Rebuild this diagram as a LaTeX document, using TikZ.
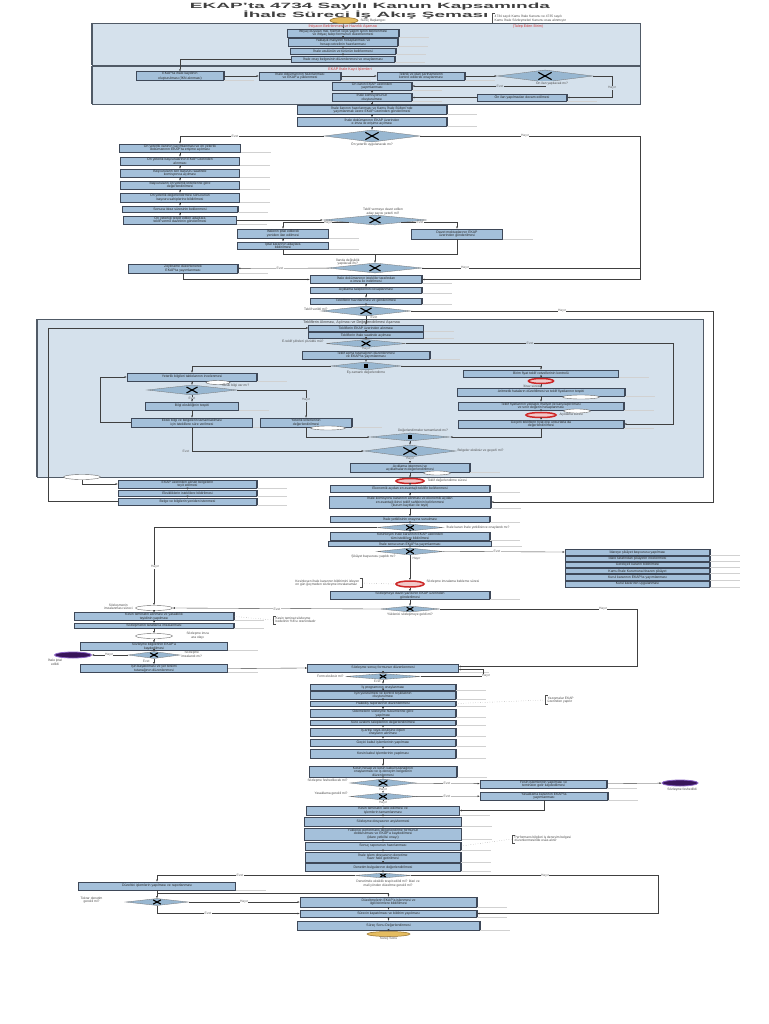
\documentclass[tikz,border=0pt]{standalone}
\usepackage{fontspec}
\setmainfont{Liberation Sans}
\usepackage{xcolor}
\usepackage{tikz}
\usetikzlibrary{arrows.meta,shapes.geometric}

\definecolor{taskfill}{RGB}{164,192,218}
\definecolor{taskline}{RGB}{62,72,88}
\definecolor{grpfill}{RGB}{213,225,236}
\definecolor{grpline}{RGB}{80,90,102}
\definecolor{gwfill}{RGB}{152,183,209}
\definecolor{startfill}{RGB}{228,188,96}
\definecolor{startline}{RGB}{150,110,40}
\definecolor{hdrred}{RGB}{210,62,62}
\definecolor{evred}{RGB}{205,40,40}
\definecolor{endfill}{RGB}{56,20,90}
\definecolor{endline}{RGB}{140,100,200}

\newcommand{\boxfont}{\fontsize{3.45}{3.65}\selectfont}
\newcommand{\lblfont}{\fontsize{3.3}{3.5}\selectfont}

\begin{document}
\begin{tikzpicture}[
  x=1pt, y=-1pt,
  task/.style={draw=taskline, fill=taskfill, line width=0.35pt, inner sep=0.4pt, align=center, font=\boxfont, text=black!85,
    path picture={\draw[line width=1.4pt, taskline] (path picture bounding box.north west) -- (path picture bounding box.south west) (path picture bounding box.north east) -- (path picture bounding box.south east);},
    append after command={(\tikzlastnode.south east) edge[trail] ++(30,0)}},
  trail/.style={draw=black!18, line width=0.8pt},
  gw/.style={shape=diamond, draw=black!55, fill=gwfill, inner sep=0pt, line width=0.3pt, minimum height=#1,
    path picture={\draw[line width=1.1pt, black] ([shift={(-0.55*#1,-0.3*#1)}]path picture bounding box.center) -- ([shift={(0.55*#1,0.3*#1)}]path picture bounding box.center) ([shift={(-0.55*#1,0.3*#1)}]path picture bounding box.center) -- ([shift={(0.55*#1,-0.3*#1)}]path picture bounding box.center);}},
  pgw/.style={shape=diamond, draw=black!55, fill=gwfill, inner sep=0pt, line width=0.3pt, minimum height=#1,
    path picture={\fill[black] ([shift={(-0.3*#1,-0.3*#1)}]path picture bounding box.center) rectangle ([shift={(0.3*#1,0.3*#1)}]path picture bounding box.center);}},
  evstart/.style={ellipse, draw=startline, fill=startfill, line width=0.5pt, inner sep=0pt},
  evred/.style={ellipse, draw=evred, fill=evred!25, line width=1.5pt, inner sep=0pt},
  evend/.style={ellipse, draw=endline, fill=endfill, line width=0.8pt, inner sep=0pt},
  evsmall/.style={ellipse, draw=black!60, fill=white, line width=0.4pt, inner sep=0pt},
  flow/.style={-{Latex[length=2.2pt,width=1.8pt]}, draw=black!75, line width=0.35pt},
  conn/.style={draw=black!75, line width=0.35pt},
  yn/.style={font=\lblfont, text=black!60, inner sep=0.3pt, fill=white},
  lbl/.style={font=\lblfont, text=black!70, inner sep=0.3pt, align=center},
  annot/.style={font=\lblfont, text=black!70, align=left, inner ysep=0.8pt, inner xsep=2.5pt},
  brk/.style={draw=black!70, line width=0.6pt},
  dots/.style={draw=black!45, dotted, line width=0.4pt},
  grp/.style={draw=grpline, fill=grpfill, line width=0.4pt},
  hdr/.style={font=\fontsize{3.7}{4}\selectfont, text=hdrred, inner sep=0.3pt}
]
\useasboundingbox (0,0) rectangle (768,1024);
\fill[white] (0,0) rectangle (768,1024);

% title and legend
\node[font=\fontsize{7.6}{8}\selectfont\bfseries, text=black!75, inner sep=0pt] (title1) at (370,7) {\scalebox{2.5}[1]{EKAP'ta 4734 Sayılı Kanun Kapsamında}};
\node[font=\fontsize{7.6}{8}\selectfont\bfseries, text=black!75, inner sep=0pt] (title2) at (366,14.6) {\scalebox{2.5}[1]{İhale Süreci İş Akış Şeması}};
\node[annot, anchor=west] (legend) at (492,18.5) {4734 sayılı Kamu İhale Kanunu ve 4735 sayılı\\Kamu İhale Sözleşmeleri Kanunu esas alınmıştır};
\draw[brk] ([xshift=2.5pt]legend.north west) -- (legend.north west) -- (legend.south west) -- ([xshift=2.5pt]legend.south west);

% groups
\draw[grp] (92,23) rectangle (640,65);
\draw[grp] (92,66.5) rectangle (640,104);
\draw[grp] (37,319) rectangle (703,477);
\draw[line width=1.2pt, grpline] (92,23) -- (92,65) (92,66.5) -- (92,104) (37,319) -- (37,477);

% start and preparation
\node[evstart, minimum width=28, minimum height=6] (start) at (344,20.5) {};
\node[lbl, anchor=west] (startL) at (360,21) {Süreç Başlangıcı};
\node[hdr] (hdrA) at (343,26.3) {İhtiyacın Belirlenmesi ve Hazırlık Aşaması};
\node[hdr] (hdrA2) at (528,26.3) {(Talep Eden Birim)};
\node[task, minimum width=112, minimum height=8] (talep) at (343,33) {İhtiyaç duyulan mal, hizmet veya yapım işinin belirlenmesi\\ve ihtiyaç talep formunun düzenlenmesi};
\node[task, minimum width=110, minimum height=8] (maliyet) at (343,42.5) {Yaklaşık maliyetin hesaplanması ve\\hesap cetvelinin hazırlanması};
\node[task, minimum width=106, minimum height=6] (usul) at (343,51.5) {İhale usulünün ve türünün belirlenmesi};
\node[task, minimum width=104, minimum height=6] (onay) at (343,59) {İhale onay belgesinin düzenlenmesi ve onaylanması};

% EKAP registration
\node[hdr] (hdrB) at (350,68.8) {EKAP İhale Kayıt İşlemleri};
\node[task, minimum width=88, minimum height=8] (kayit) at (180,76) {EKAP'ta ihale kaydının\\oluşturulması (İKN alınması)};
\node[task, minimum width=82, minimum height=8] (dokuman) at (300,76) {İhale dokümanının hazırlanması\\ve EKAP'a yüklenmesi};
\node[task, minimum width=88, minimum height=8] (sartname) at (421,76) {Teknik ve idari şartnamelerin\\kontrol edilerek onaylanması};
\node[gw=12, minimum width=96] (dOnilan) at (545,76) {};
\node[task, minimum width=80, minimum height=7] (onilan) at (372,86) {Ön ilanın EKAP üzerinden\\yayımlanması};
\node[task, minimum width=90, minimum height=7] (ilansiz) at (522,97.5) {Ön ilan yapılmadan devam edilmesi};
\node[task, minimum width=80, minimum height=7] (komisyon) at (372,97.5) {İhale komisyonunun\\oluşturulması};
\node[task, minimum width=150, minimum height=9] (ilan) at (372,110) {İhale ilanının hazırlanması ve Kamu İhale Bülteni'nde\\yayımlanmak üzere EKAP üzerinden gönderilmesi};
\node[task, minimum width=150, minimum height=9] (erisim) at (372,122) {İhale dokümanının EKAP üzerinden\\e-imza ile erişime açılması};
\node[gw=12, minimum width=96] (dOnyet) at (372,136) {};

% pre-qualification column
\node[task, minimum width=121, minimum height=8] (oy1) at (180,148) {Ön yeterlik ilanının yayımlanması ve ön yeterlik\\dokümanının EKAP'ta erişime açılması};
\node[task, minimum width=119, minimum height=8] (oy2) at (180,161) {Ön yeterlik başvurularının EKAP üzerinden\\alınması};
\node[task, minimum width=119, minimum height=8] (oy3) at (180,173) {Başvuruların son başvuru saatinde\\komisyonca açılması};
\node[task, minimum width=119, minimum height=8] (oy4) at (180,185) {Başvuruların ön yeterlik kriterlerine göre\\değerlendirilmesi};
\node[task, minimum width=119, minimum height=9] (oy5) at (180,197.5) {Ön yeterlik değerlendirmesi sonucunun\\başvuru sahiplerine bildirilmesi};
\node[task, minimum width=116, minimum height=6] (oy6) at (180,209) {Sonuca itiraz süresinin beklenmesi};
\node[task, minimum width=113, minimum height=8] (oy7) at (180,220) {Ön yeterliği tespit edilen adaylara\\teklif verme davetinin gönderilmesi};
\node[gw=10, minimum width=104] (dDavet) at (375,220) {};
\node[task, minimum width=91, minimum height=9] (iptal1) at (283,233.5) {İhalenin iptal edilerek\\yeniden ilan edilmesi};
\node[task, minimum width=91, minimum height=7] (iptal2) at (283,245.5) {İptal kararının adaylara\\bildirilmesi};
\node[task, minimum width=91, minimum height=10] (davet) at (457,234) {Davet mektuplarının EKAP\\üzerinden gönderilmesi};
\coordinate (mj) at (375,254);
\node[gw=10, minimum width=94] (dZeyil) at (375,268) {};
\node[task, minimum width=110, minimum height=9] (zeyil) at (183,268.5) {Zeyilname düzenlenerek\\EKAP'ta yayımlanması};
\coordinate (jn) at (640,268);
\node[task, minimum width=112, minimum height=8] (indir) at (366,279.5) {İhale dokümanının istekliler tarafından\\e-imza ile indirilmesi};
\node[task, minimum width=112, minimum height=6] (aciklama) at (366,290) {Açıklama taleplerinin cevaplanması};
\node[task, minimum width=112, minimum height=6] (hazirlik) at (366,301) {Tekliflerin hazırlanması ve gönderilmesi};
\node[gw=10, minimum width=90] (dTeklif) at (366,311) {};

% bids: opening and evaluation
\node[font=\fontsize{3.7}{4}\selectfont, text=black!75, inner sep=0.3pt] (hdrC) at (352,322.5) {Tekliflerin Alınması, Açılması ve Değerlendirilmesi Aşaması};
\node[task, minimum width=115, minimum height=6] (al) at (366,328) {Tekliflerin EKAP üzerinden alınması};
\node[task, minimum width=115, minimum height=6] (ac) at (366,335.5) {Tekliflerin ihale saatinde açılması};
\node[gw=8, minimum width=80] (dSifre) at (366,343.5) {};
\node[task, minimum width=128, minimum height=8] (tutanak) at (366,355) {Teklif açma tutanağının düzenlenmesi\\ve EKAP'ta yayımlanması};
\node[pgw=8, minimum width=70] (fork) at (366,366) {};

\node[task, minimum width=130, minimum height=8] (ybt) at (192,377) {Yeterlik bilgileri tablolarının incelenmesi};
\node[evsmall, minimum width=24, minimum height=4] (so1) at (218,382.5) {};
\node[gw=10, minimum width=90] (dEksik) at (192,390) {};
\node[task, minimum width=93, minimum height=8] (eksik) at (192,406) {Bilgi eksikliğinin tespiti};
\node[task, minimum width=121, minimum height=9] (tamamla) at (192,422.5) {Eksik bilgi ve belgelerin tamamlatılması\\için isteklilere süre verilmesi};
\node[task, minimum width=92, minimum height=9] (kriter) at (306,422.5) {Yeterlik kriterlerinin\\değerlendirilmesi};
\node[evsmall, minimum width=35, minimum height=4] (so2) at (328,428) {};

\node[task, minimum width=155, minimum height=7] (cetvel) at (541,373.5) {Birim fiyat teklif cetvellerinin kontrolü};
\node[evred, minimum width=25, minimum height=5] (sure1) at (541,381) {};
\node[task, minimum width=168, minimum height=8] (aritmetik) at (541,392) {Aritmetik hataların düzeltilmesi ve teklif fiyatlarının tespiti};
\node[evsmall, minimum width=37, minimum height=4] (so4) at (581,397) {};
\node[task, minimum width=166, minimum height=8] (sinir) at (541,406) {Teklif fiyatlarının yaklaşık maliyet ile karşılaştırılması\\ve sınır değerin hesaplanması};
\node[evsmall, minimum width=27, minimum height=4] (so5) at (577,411) {};
\node[evred, minimum width=30, minimum height=5] (sure2) at (541,415) {};
\node[task, minimum width=166, minimum height=8] (fiyatdisi) at (541,424) {Geçerli tekliflerin fiyat dışı unsurlarla da\\değerlendirilmesi};

\node[pgw=8, minimum width=80] (join) at (410,437) {};
\node[gw=12, minimum width=92] (dBelge) at (410,451) {};
\node[task, minimum width=120, minimum height=9] (sorgu) at (410,468) {Açıklama istenmesi ve\\açıklamaların değerlendirilmesi};
\node[evsmall, minimum width=27, minimum height=4] (so3) at (437,473) {};

% documents check loop
\node[evsmall, minimum width=37, minimum height=5] (bo) at (82,477) {};
\node[task, minimum width=139, minimum height=8] (teyit) at (187.5,484) {EKAP üzerinden alınan belgelerin\\teyit edilmesi};
\node[task, minimum width=139, minimum height=6] (bildir) at (187.5,493) {Eksikliklerin isteklilere bildirilmesi};
\node[task, minimum width=139, minimum height=7] (yeniden) at (187.5,501.5) {Belge ve bilgilerin yeniden istenmesi};

% award
\node[evred, minimum width=28, minimum height=5] (sure3) at (410,481) {};
\node[task, minimum width=160, minimum height=7] (avantaj) at (410,489) {Ekonomik açıdan en avantajlı teklifin belirlenmesi};
\node[task, minimum width=162, minimum height=10] (karar) at (410,502) {İhale komisyonu kararının alınması ve ekonomik açıdan\\en avantajlı ikinci teklif sahibinin belirlenmesi\\(kurum kayıtları ile teyit)};
\node[task, minimum width=160, minimum height=6] (yetkili) at (410,519.5) {İhale yetkilisinin onayına sunulması};
\node[gw=7, minimum width=66] (dOnay) at (410,527.5) {};
\node[task, minimum width=160, minimum height=8] (kesin) at (410,536) {Kesinleşen ihale kararının EKAP üzerinden\\tüm isteklilere bildirilmesi};
\node[task, minimum width=163, minimum height=5] (sonuc) at (410,544) {İhale sonucunun EKAP'ta yayımlanması};
\node[gw=7, minimum width=66] (dSikayet) at (410,551.5) {};
\node[task, minimum width=145, minimum height=6] (sk1) at (637.5,552) {İdareye şikâyet başvurusu yapılması};
\node[task, minimum width=145, minimum height=5] (sk2) at (637.5,558.5) {İdare tarafından şikâyetin incelenmesi};
\node[task, minimum width=145, minimum height=5.5] (sk3) at (637.5,564.8) {Gerekçeli kararın bildirilmesi};
\node[task, minimum width=145, minimum height=5] (sk4) at (637.5,571) {Kamu İhale Kurumuna itirazen şikâyet};
\node[task, minimum width=145, minimum height=5.5] (sk5) at (637.5,577.3) {Kurul kararının EKAP'ta yayımlanması};
\node[task, minimum width=145, minimum height=6] (sk6) at (637.5,584) {Kurul kararının uygulanması};
\node[evred, minimum width=28, minimum height=6] (sure4) at (410,584) {};
\node[annot, anchor=east] (annBekle) at (362,583) {Kesinleşen ihale kararının bildirimini izleyen\\on gün geçmeden sözleşme imzalanamaz};
\node[task, minimum width=160, minimum height=8] (cagri) at (410,595.5) {Sözleşmeye davet yazısının EKAP üzerinden\\gönderilmesi};
\node[gw=6, minimum width=60] (dGeldi) at (410,609) {};

% contract
\node[evsmall, minimum width=37, minimum height=5] (ov1) at (154,608) {};
\node[task, minimum width=160, minimum height=7] (teminat) at (154,616.5) {Kesin teminatın alınması ve yasaklılık\\teyidinin yapılması};
\node[annot, anchor=west] (annTeminat) at (273,620) {Kesin teminat sözleşme\\bedelinin \%6'sı oranındadır};
\node[task, minimum width=160, minimum height=5] (imza) at (154,625.5) {Sözleşmenin taraflarca imzalanması};
\node[evsmall, minimum width=37, minimum height=5] (ov2) at (154,636) {};
\node[task, minimum width=147, minimum height=7] (sbilgi) at (154,646.5) {Sözleşme bilgilerinin EKAP'a\\kaydedilmesi};
\node[gw=7, minimum width=52] (dImza) at (154,655) {};
\node[evend, minimum width=37, minimum height=6] (end1) at (73,655) {};
\node[task, minimum width=147, minimum height=7] (yer) at (154,668.5) {İşin başlatılması ve yer teslimi\\tutanağının düzenlenmesi};

% execution
\node[task, minimum width=151, minimum height=8] (form) at (383,668) {Sözleşme sonuç formunun düzenlenmesi};
\node[gw=6, minimum width=75] (dForm) at (383,676.5) {};
\node[task, minimum width=146, minimum height=6] (program) at (383,687) {İş programının onaylanması};
\node[task, minimum width=146, minimum height=7] (yurut) at (383,695) {İşin yürütülmesi ve kontrol teşkilatının\\oluşturulması};
\node[task, minimum width=146, minimum height=5] (hakedis) at (383,703.5) {Hakediş raporlarının düzenlenmesi};
\node[annot, anchor=west] (annYazi) at (545,700) {Yazışmalar EKAP\\üzerinden yapılır};
\node[task, minimum width=146, minimum height=7] (odeme) at (383,713.5) {Ödemelerin sözleşme hükümlerine göre\\yapılması};
\node[task, minimum width=146, minimum height=5] (uzatim) at (383,722.5) {Süre uzatımı taleplerinin değerlendirilmesi};
\node[task, minimum width=146, minimum height=8] (artis) at (383,732) {İş artışı veya eksilişine ilişkin\\onayların alınması};
\node[task, minimum width=146, minimum height=7] (gecici) at (383,742.5) {Geçici kabul işlemlerinin yapılması};
\node[task, minimum width=146, minimum height=9] (kabul) at (383,753.5) {Kesin kabul işlemlerinin yapılması};
\node[task, minimum width=148, minimum height=10] (hesap) at (383,771.5) {Kesin hesap ve kesin kabul tutanağının\\onaylanması ve iş deneyim belgesinin\\düzenlenmesi};
\node[gw=8, minimum width=66] (dFesih) at (383,783) {};
\node[task, minimum width=127, minimum height=8] (fesih) at (543.5,784) {Fesih işlemlerinin yapılması ve\\teminatın gelir kaydedilmesi};
\node[evend, minimum width=36, minimum height=6] (end2) at (680,783) {};
\node[gw=7, minimum width=66] (dYasak) at (383,796.5) {};
\node[task, minimum width=128, minimum height=8] (yasak) at (544,796) {Yasaklama kararının EKAP'ta\\yayımlanması};

% closing
\node[task, minimum width=153, minimum height=9] (iade) at (383,810.5) {Kesin teminatın iade edilmesi ve\\işlemlerin tamamlanması};
\node[task, minimum width=157, minimum height=9] (arsiv) at (383,821.5) {Sözleşme dosyasının arşivlenmesi};
\node[task, minimum width=157, minimum height=11] (perf) at (383,834) {Yüklenici performans değerlendirme formunun\\doldurulması ve EKAP'a kaydedilmesi\\(idare yetkilisi onayı)};
\node[task, minimum width=156, minimum height=8] (rapor) at (383,846) {Sonuç raporunun hazırlanması};
\node[annot, anchor=west] (annPerf) at (512,839) {Performans bilgileri iş deneyim belgesi\\düzenlenmesinde esas alınır};
\node[task, minimum width=156, minimum height=10] (denetim) at (383,857) {İhale işlem dosyasının denetime\\hazır hale getirilmesi};
\node[task, minimum width=156, minimum height=8] (bulgu) at (383,867.5) {Denetim bulgularının değerlendirilmesi};
\node[gw=5, minimum width=56] (dDuzelt) at (383,875.5) {};
\node[task, minimum width=157, minimum height=8] (duzelt) at (157,886) {Düzeltici işlemlerin yapılması ve raporlanması};
\node[gw=7, minimum width=63] (dTekrar) at (157,902) {};
\node[task, minimum width=177, minimum height=10] (isle) at (388.5,902) {Düzeltmelerin EKAP'a işlenmesi ve\\ilgili birimlere bildirilmesi};
\node[task, minimum width=177, minimum height=7] (kapat) at (388.5,913.5) {Sürecin kapatılması ve bildirim yapılması};
\node[task, minimum width=183, minimum height=9] (sondeg) at (388.5,925.5) {Süreç Sonu Değerlendirmesi};
\node[evstart, minimum width=43, minimum height=5] (finish) at (388.5,934) {};

% connectors
\draw[flow] (start) -- (talep);
\draw[flow] (talep) -- (maliyet);
\draw[flow] (maliyet) -- (usul);
\draw[flow] (usul) -- (onay);
\draw[flow] (onay.west) -| (kayit.north);
\draw[flow] (kayit) -- (dokuman);
\draw[flow] (dokuman) -- (sartname);
\draw[flow] (sartname) -- (dOnilan);
\draw[flow] (dOnilan.south) |- (onilan.east);
\draw[flow] (dOnilan.east) -- ++(19,0) |- (ilansiz.east);
\draw[flow] (ilansiz) -- (komisyon);
\draw[flow] (onilan) -- (komisyon);
\draw[flow] (komisyon) -- (ilan);
\draw[flow] (ilan) -- (erisim);
\draw[flow] (erisim) -- (dOnyet);
\draw[flow] (dOnyet.west) -| (oy1.north);
\draw[flow] (dOnyet.east) -- ++(220,0) |- (indir.east);
\draw[flow] (oy1) -- (oy2);
\draw[flow] (oy2) -- (oy3);
\draw[flow] (oy3) -- (oy4);
\draw[flow] (oy4) -- (oy5);
\draw[flow] (oy5) -- (oy6);
\draw[flow] (oy6) -- (oy7);
\draw[flow] (oy7) -- (dDavet);
\draw[flow] (dDavet.south west) -| (iptal1.north);
\draw[flow] (dDavet.south east) -| (davet.north);
\draw[flow] (iptal1) -- (iptal2);
\draw[conn] (iptal2.south) |- (mj);
\draw[conn] (davet.south) |- (mj);
\draw[flow] (mj) -- (dZeyil);
\draw[flow] (dZeyil) -- (zeyil);
\draw[conn] (dZeyil.east) -- (jn);
\draw[flow] (zeyil.south) |- (indir.west);
\draw[flow] (indir) -- (aciklama);
\draw[flow] (aciklama) -- (hazirlik);
\draw[flow] (hazirlik) -- (dTeklif);
\draw[flow] (dTeklif) -- (al);
\draw[flow] (dTeklif.east) -- ++(302,0) |- (karar.east);
\draw[flow] (al) -- (ac);
\draw[flow] (ac) -- (dSifre);
\draw[flow] (dSifre.east) -- ++(267,0) |- (fiyatdisi.east);
\draw[flow] (dSifre) -- (tutanak);
\draw[flow] (tutanak) -- (fork);
\draw[flow] (fork.west) -| (ybt.north);
\draw[flow] (fork.east) -| (cetvel.north);
\draw[flow] (ybt) -- (dEksik);
\draw[flow] (dEksik) -- (eksik);
\draw[flow] (dEksik.east) -| (kriter.north);
\draw[flow] (eksik) -- (tamamla);
\draw[flow] (tamamla.west) -- ++(-31,0) |- (ybt.west);
\draw[flow] (tamamla.south) |- (dBelge.west);
\draw[flow] (kriter.south) |- (join.west);
\draw[flow] (cetvel) -- (sure1);
\draw[flow] (sure1) -- (aritmetik);
\draw[flow] (aritmetik) -- (sinir);
\draw[flow] (sinir) -- (sure2);
\draw[flow] (sure2) -- (fiyatdisi);
\draw[flow] (fiyatdisi.south) |- (join.east);
\draw[flow] (join) -- (dBelge);
\draw[flow] (dBelge) -- (sorgu);
\draw[flow] (sorgu) -- (sure3);
\draw[flow] (bo.south) |- (teyit.west);
\draw[flow] (teyit) -- (bildir);
\draw[flow] (bildir) -- (yeniden);
\draw[flow] (yeniden.west) -- ++(-70,0) |- (al.west);
\draw[flow] (sure3) -- (avantaj);
\draw[flow] (avantaj) -- (karar);
\draw[flow] (karar) -- (yetkili);
\draw[flow] (yetkili) -- (dOnay);
\draw[flow] (dOnay.west) -| (ov1.north);
\draw[flow] (dOnay) -- (kesin);
\draw[flow] (kesin) -- (sonuc);
\draw[flow] (sonuc) -- (dSikayet);
\draw[flow] (dSikayet.east) -- (sk1.west);
\draw[conn] (sk1) -- (sk2);
\draw[conn] (sk2) -- (sk3);
\draw[conn] (sk3) -- (sk4);
\draw[conn] (sk4) -- (sk5);
\draw[conn] (sk5) -- (sk6);
\draw[flow] (dSikayet) -- (sure4);
\draw[brk] ([xshift=-2.5pt]annBekle.north east) -- (annBekle.north east) -- (annBekle.south east) -- ([xshift=-2.5pt]annBekle.south east);
\draw[dots] (annBekle.east) -- (sure4.west);
\draw[flow] (sure4) -- (cagri);
\draw[flow] (cagri) -- (dGeldi);
\draw[flow] (dGeldi.east) -- ++(197,0) |- ([yshift=1.5pt]form.east);
\draw[flow] (dGeldi.west) -- (ov1.east);
\draw[flow] (ov1) -- (teminat);
\draw[brk] ([xshift=2.5pt]annTeminat.north west) -- (annTeminat.north west) -- (annTeminat.south west) -- ([xshift=2.5pt]annTeminat.south west);
\draw[dots] (teminat.east) -- (annTeminat.west);
\draw[flow] (teminat) -- (imza);
\draw[flow] (imza) -- (ov2);
\draw[flow] (ov2) -- (sbilgi);
\draw[flow] (sbilgi) -- (dImza);
\draw[flow] (dImza) -- (end1);
\draw[flow] (dImza) -- (yer);
\draw[flow] (yer.east) -- (form.west);
\draw[flow] (form) -- (dForm);
\draw[flow] (dForm.east) -- ++(63,0) |- ([yshift=-1.5pt]form.east);
\draw[flow] (dForm) -- (program);
\draw[flow] (program) -- (yurut);
\draw[flow] (yurut) -- (hakedis);
\draw[brk] ([xshift=2.5pt]annYazi.north west) -- (annYazi.north west) -- (annYazi.south west) -- ([xshift=2.5pt]annYazi.south west);
\draw[dots] (hakedis.east) -- (annYazi.west);
\draw[flow] (hakedis) -- (odeme);
\draw[flow] (odeme) -- (uzatim);
\draw[flow] (uzatim) -- (artis);
\draw[flow] (artis) -- (gecici);
\draw[flow] (gecici) -- (kabul);
\draw[flow] (kabul) -- (hesap);
\draw[flow] (hesap) -- (dFesih);
\draw[flow] (dFesih) -- (fesih);
\draw[flow] (fesih) -- (end2);
\draw[flow] (dFesih) -- (dYasak);
\draw[flow] (dYasak) -- (yasak);
\draw[flow] (yasak.south) |- (iade.east);
\draw[flow] (dYasak) -- (iade);
\draw[flow] (iade) -- (arsiv);
\draw[flow] (arsiv) -- (perf);
\draw[flow] (perf) -- (rapor);
\draw[brk] ([xshift=2.5pt]annPerf.north west) -- (annPerf.north west) -- (annPerf.south west) -- ([xshift=2.5pt]annPerf.south west);
\draw[dots] (rapor.east) -- (annPerf.west);
\draw[flow] (rapor) -- (denetim);
\draw[flow] (denetim) -- (bulgu);
\draw[flow] (bulgu) -- (dDuzelt);
\draw[flow] (dDuzelt.west) -| (duzelt.north);
\draw[flow] (dDuzelt.east) -- ++(247,0) |- (kapat.east);
\draw[flow] (duzelt) -- (dTekrar);
\draw[flow] (duzelt.south) -- ++(0,3) -| (isle.north);
\draw[flow] (dTekrar) -- (isle);
\draw[flow] (dTekrar.south) |- (kapat.west);
\draw[flow] (isle) -- (kapat);
\draw[flow] (kapat) -- (sondeg);
\draw[flow] (sondeg) -- (finish);

% gateway and event labels
\node[lbl, fill=grpfill] (dOnilanL) at (552,83.5) {Ön ilan yapılacak mı?};
\node[yn, fill=grpfill] at (500,86) {Evet};
\node[yn, fill=grpfill] at (612,88) {Hayır};
\node[lbl] (dOnyetL) at (372,144.5) {Ön yeterlik uygulanacak mı?};
\node[yn] at (235,136) {Evet};
\node[yn] at (525,136) {Hayır};
\node[lbl] (dDavetL) at (383,211.5) {Teklif vermeye davet edilen\\aday sayısı yeterli mi?};
\node[yn] at (328,222.5) {Hayır};
\node[yn] at (420,222.5) {Evet};
\node[lbl, anchor=east] (dZeyilL) at (360,262) {İlanda değişiklik\\yapılacak mı?};
\node[yn] at (280,268) {Evet};
\node[yn] at (465,268) {Hayır};
\node[lbl, anchor=east] (dTeklifL) at (328,309) {Teklif verildi mi?};
\node[yn, fill=none] at (374,317) {Evet};
\node[yn] at (562,311) {Hayır};
\node[lbl, anchor=east] (dSifreL) at (324,342) {E-teklif şifreleri çözüldü mü?};
\node[yn, fill=grpfill] at (530,343.5) {Evet};
\node[yn, fill=grpfill] at (366,349) {Hayır};
\node[lbl] (forkL) at (366,372.3) {Eş zamanlı değerlendirme};
\node[lbl, anchor=west] (dEksikL) at (222,385.5) {Eksik bilgi var mı?};
\node[yn, fill=grpfill] at (192,398) {Evet};
\node[yn, fill=grpfill] at (306,400) {Hayır};
\node[lbl, anchor=west] (sure1L) at (523,385.8) {İtiraz süresi};
\node[lbl, anchor=west] (sure2L) at (559,415) {Açıklama süresi};
\node[lbl] (joinL) at (423,430.7) {Değerlendirmeler tamamlandı mı?};
\node[yn, fill=grpfill] at (186,451) {Evet};
\node[lbl, anchor=west] (dBelgeL) at (457,451) {Belgeler eksiksiz ve geçerli mi?};
\node[yn, fill=grpfill] at (410,459) {Hayır};
\node[lbl, anchor=west] (sure3L) at (427,481) {Teklif değerlendirme süresi};
\node[lbl, anchor=west] (dOnayL) at (446,527.5) {İhale kararı ihale yetkilisince onaylandı mı?};
\node[yn] at (155,567) {Hayır};
\node[lbl, anchor=north east] (dSikayetL) at (396,555) {Şikâyet başvurusu yapıldı mı?};
\node[yn] at (497,551.5) {Evet};
\node[yn, fill=none, anchor=west] at (412,558.5) {Hayır};
\node[lbl, anchor=west] (sure4L) at (426,581.5) {Sözleşme imzalama bekleme süresi};
\node[lbl] (dGeldiL) at (410,614.8) {Yüklenici sözleşmeye geldi mi?};
\node[yn] at (277,609) {Evet};
\node[yn] at (603,609) {Hayır};
\node[lbl, anchor=east] (ov1L) at (133,607) {Sözleşmenin\\imzalanması süreci};
\node[lbl, anchor=west] (ov2L) at (186,635.5) {Sözleşme imza\\ara olayı};
\node[lbl, anchor=west] (dImzaL) at (181,654.5) {Sözleşme\\imzalandı mı?};
\node[yn] at (109,655) {Hayır};
\node[yn, fill=none, anchor=east] at (150,661) {Evet};
\node[lbl, anchor=north] (end1L) at (55,658.5) {İhale iptal\\edildi};
\node[lbl, anchor=east] (dFormL) at (344,676.5) {Form eksiksiz mi?};
\node[yn] at (486,675.5) {Hayır};
\node[yn, fill=none, anchor=east] at (381,681.5) {Evet};
\node[lbl, anchor=east] (dFesihL) at (348,780.5) {Sözleşme feshedilecek mi?};
\node[yn] at (447,783) {Evet};
\node[yn] at (383,789.3) {Hayır};
\node[lbl] (end2L) at (682,789.5) {Sözleşme feshedildi};
\node[lbl, anchor=east] (dYasakL) at (348,794) {Yasaklama gerekli mi?};
\node[yn] at (447,796.5) {Evet};
\node[yn] at (383,803) {Hayır};
\node[lbl] (dDuzeltL) at (388,883.5) {Denetimde eksiklik tespit edildi mi? İdari ve\\mali yönden düzeltme gerekli mi?};
\node[yn] at (240,875.5) {Evet};
\node[yn] at (545,875.5) {Hayır};
\node[lbl, anchor=east] (dTekrarL) at (103,900) {Tekrar denetim\\gerekli mi?};
\node[yn] at (244,902) {Hayır};
\node[yn] at (208,913.5) {Evet};
\node[lbl] (finishL) at (388.5,939) {Süreç Sonu};
\end{tikzpicture}
\end{document}
